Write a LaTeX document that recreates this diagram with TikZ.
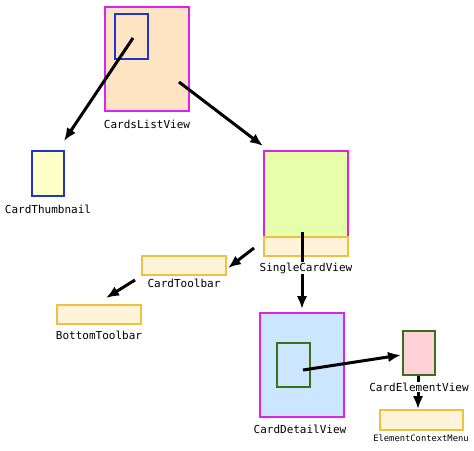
\documentclass[tikz,border=0pt]{standalone}
\usepackage{fontspec}
\setmonofont{DejaVu Sans Mono}
\usetikzlibrary{arrows.meta}
\definecolor{mag}{HTML}{DD22EE}
\definecolor{blu}{HTML}{2233CC}
\definecolor{grn}{HTML}{3A7018}
\definecolor{org}{HTML}{F0C040}
\definecolor{bisq}{HTML}{FFE4C4}
\definecolor{lyel}{HTML}{FFFFC8}
\definecolor{lgrn}{HTML}{E6FFAA}
\definecolor{cream}{HTML}{FFF4DA}
\definecolor{lblu}{HTML}{CCE6FF}
\definecolor{lpnk}{HTML}{FFD2D8}
\tikzset{
  box/.style={draw, line width=2pt, inner sep=0pt, outer sep=0pt},
  lbl/.style={font=\ttfamily\fontsize{11}{13}\selectfont, inner sep=1pt, fill=white},
  slbl/.style={font=\ttfamily\fontsize{8.8}{10}\selectfont, inner sep=1pt, fill=white},
  arr/.style={line width=3pt, -{Latex[length=13pt,width=10.5pt]}}
}
\begin{document}
\begin{tikzpicture}[x=1pt,y=-1pt]
\useasboundingbox (0,0) rectangle (474,450);
% CardsListView
\node[box, draw=mag, fill=bisq, minimum width=84pt, minimum height=104pt] (clv) at (147,59) {};
\node[box, draw=blu, minimum width=33pt, minimum height=45pt] (clvin) at (131.5,36.5) {};
\node[lbl] (clvl) at (147,124) {CardsListView};
% CardThumbnail
\node[box, draw=blu, fill=lyel, minimum width=32pt, minimum height=45pt] (ct) at (48,173.5) {};
\node[lbl] (ctl) at (48,209) {CardThumbnail};
% SingleCardView
\node[box, draw=mag, fill=lgrn, minimum width=84pt, minimum height=86pt] (scv) at (306,194) {};
\node[box, draw=org, fill=cream, minimum width=84pt, minimum height=19pt] (scvtb) at (306,246.5) {};
% CardToolbar
\node[box, draw=org, fill=cream, minimum width=84pt, minimum height=19pt] (ctb) at (184,265.5) {};
\node[lbl] (ctbl) at (184,283) {CardToolbar};
% BottomToolbar
\node[box, draw=org, fill=cream, minimum width=84pt, minimum height=19pt] (btb) at (99,314.5) {};
\node[lbl] (btbl) at (99,335) {BottomToolbar};
% CardDetailView
\node[box, draw=mag, fill=lblu, minimum width=84pt, minimum height=104pt] (cdv) at (302,365) {};
\node[box, draw=grn, minimum width=33pt, minimum height=44pt] (cdvin) at (293.5,365) {};
\node[lbl] (cdvl) at (300,429) {CardDetailView};
% CardElementView
\node[box, draw=grn, fill=lpnk, minimum width=32pt, minimum height=44pt] (cev) at (419,353) {};
% ElementContextMenu
\node[box, draw=org, fill=cream, minimum width=83pt, minimum height=20pt] (ecm) at (421.5,420) {};
\node[slbl] (ecml) at (421,438) {ElementContextMenu};
% arrow coordinates
\coordinate (a1s) at (133,38);
\coordinate (a1e) at (64,141);
\coordinate (a2s) at (179,82);
\coordinate (a2e) at (263,146);
\coordinate (a3s) at (254,248);
\coordinate (a3e) at (228,268);
\coordinate (a4s) at (135,280);
\coordinate (a4e) at (106,298);
\coordinate (a5s) at (302,232);
\coordinate (a5e) at (302,309);
\coordinate (a6s) at (303,370);
\coordinate (a6e) at (401,355);
\coordinate (a7s) at (418,376);
\coordinate (a7e) at (418,409);
\draw[arr] (a1s) -- (a1e);
\draw[arr] (a2s) -- (a2e);
\draw[arr] (a3s) -- (a3e);
\draw[arr] (a4s) -- (a4e);
\draw[arr] (a5s) -- (a5e);
\draw[arr] (a6s) -- (a6e);
\draw[arr] (a7s) -- (a7e);
\node[lbl] (scvl) at (306,268) {SingleCardView};
\node[lbl] (cevl) at (419,387) {CardElementView};
\end{tikzpicture}
\end{document}
